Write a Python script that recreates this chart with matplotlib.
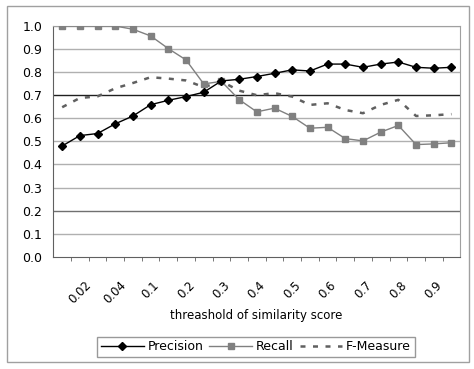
import matplotlib
matplotlib.use("Agg")
import matplotlib.pyplot as plt
from matplotlib.patches import Rectangle

# thresholds (categories on the x axis)
thresholds = ["0.01", "0.02", "0.03", "0.04", "0.05", "0.1", "0.15", "0.2", "0.25", "0.3",
              "0.35", "0.4", "0.45", "0.5", "0.55", "0.6", "0.65", "0.7", "0.75", "0.8",
              "0.85", "0.9", "0.95"]
precision = [0.480, 0.525, 0.534, 0.576, 0.610, 0.659, 0.678, 0.694, 0.713, 0.762, 0.769, 0.781,
             0.795, 0.810, 0.805, 0.835, 0.835, 0.821, 0.835, 0.844, 0.821, 0.817, 0.821]
recall = [1.0, 1.0, 1.0, 1.0, 0.986, 0.957, 0.902, 0.853, 0.749, 0.760, 0.681, 0.628,
          0.644, 0.608, 0.557, 0.561, 0.512, 0.502, 0.540, 0.569, 0.486, 0.489, 0.494]
fmeasure = [0.648, 0.688, 0.695, 0.730, 0.753, 0.778, 0.772, 0.764, 0.735, 0.760, 0.720, 0.700,
            0.709, 0.694, 0.658, 0.665, 0.636, 0.622, 0.658, 0.680, 0.610, 0.613, 0.618]
yticks = [0.0, 0.1, 0.2, 0.3, 0.4, 0.5, 0.6, 0.7, 0.8, 0.9, 1.0]

plt.rcParams['font.family'] = ['DejaVu Sans']
fig = plt.figure(figsize=(4.74, 3.69), dpi=100)
ax = fig.add_axes([0.1125, 0.3043, 0.8586, 0.6252])

x = list(range(len(thresholds)))

# gridlines
for v in yticks[1:]:
    c = '#b0b0b0'
    if v == 0.7:
        c = '#202020'
    elif v == 0.2:
        c = '#707070'
    ax.axhline(v, color=c, lw=1, zorder=1)

ax.plot(x, precision, color='black', marker='D', markersize=4, lw=1, label='Precision', zorder=4)
ax.plot(x, recall, color='#808080', marker='s', markersize=5, lw=1, label='Recall', zorder=3)
ax.plot(x, fmeasure, color='#606060', ls=(0, (2, 3)), lw=1.8, label='F-Measure', zorder=2)

ax.set_xlim(-0.5, len(thresholds) - 0.5)
ax.set_ylim(0, 1.0)
ax.set_yticks(yticks)
ax.set_yticklabels(["%.1f" % v for v in yticks], fontsize=9)
ax.tick_params(axis='y', length=0, pad=8)

lab_pos = x[1::2]
ax.set_xticks(lab_pos)
ax.set_xticklabels(thresholds[1::2], rotation=45, ha='center', fontsize=8.5)
ax.tick_params(axis='x', which='major', length=0, pad=16)
ax.set_xticks([i + 0.5 for i in range(len(thresholds) - 1)], minor=True)
ax.tick_params(axis='x', which='minor', length=3, direction='out', color='#606060')

for s in ['left', 'bottom']:
    ax.spines[s].set_color('#606060')
for s in ['top', 'right']:
    ax.spines[s].set_color('#a0a0a0')

fig.text(0.54, 1 - 315 / 369, 'threashold of similarity score', ha='center', va='center', fontsize=8.5)

leg = fig.legend(loc='center', bbox_to_anchor=(0.54, 1 - 347 / 369), ncol=3, fontsize=9,
                 handlelength=3.4, columnspacing=0.5, handletextpad=0.3, borderpad=0.3,
                 fancybox=False, frameon=True, edgecolor='#808080')
leg.get_frame().set_linewidth(1)

fig.patches.append(Rectangle((7 / 474, 1 - 361.7 / 369), 462.3 / 474, 355.7 / 369,
                             transform=fig.transFigure, fill=False, edgecolor='#a0a0a0', lw=1))

fig.savefig('out.png', dpi=100)
